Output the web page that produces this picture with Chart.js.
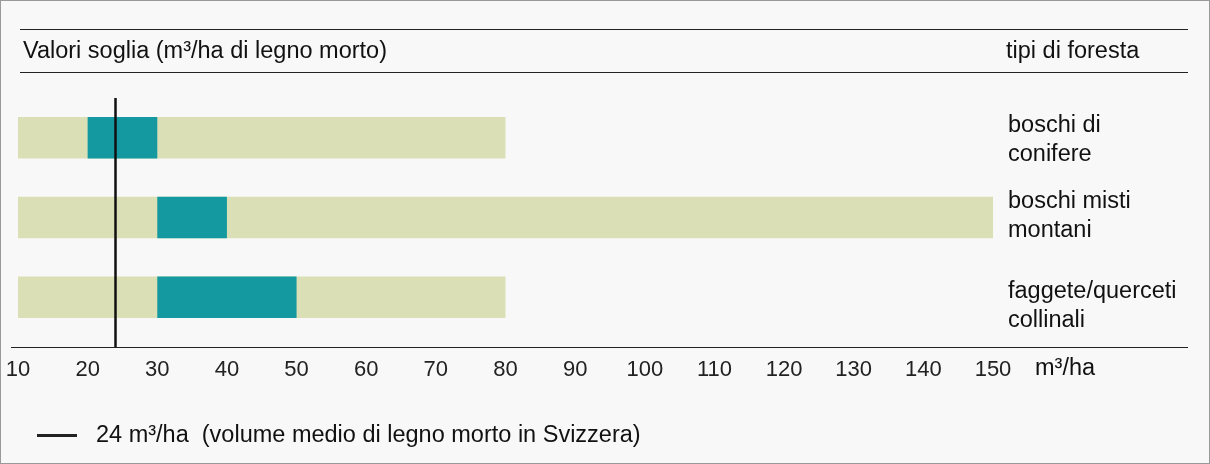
<!DOCTYPE html>
<html><head><meta charset="utf-8">
<script src="https://cdn.jsdelivr.net/npm/chart.js@4"></script>
<style>
body{margin:0;background:#fff;font-family:Arial,"Liberation Sans",sans-serif;color:#111}
#wrap{position:relative;width:1208px;height:462px;border:1px solid #9a9a9a;background:#f8f8f8}
canvas{position:absolute;left:0;top:0}
.t{position:absolute;font-size:23.5px;line-height:29px;white-space:nowrap}
.hl{position:absolute;height:1px;background:#222}
</style></head><body>
<div id="wrap">
  <canvas id="c" width="1208" height="462"></canvas>
  <div class="hl" style="left:19px;top:28px;width:1168px"></div>
  <div class="hl" style="left:19px;top:71px;width:1168px"></div>
  <div class="hl" style="left:10px;top:346px;width:1177px"></div>
  <div class="t" style="left:22px;top:35px">Valori soglia (m³/ha di legno morto)</div>
  <div class="t" style="left:1005px;top:35px">tipi di foresta</div>
  <div class="t" style="left:1007px;top:109px">boschi di<br>conifere</div>
  <div class="t" style="left:1007px;top:185px">boschi misti<br>montani</div>
  <div class="t" style="left:1007px;top:275px">faggete/querceti<br>collinali</div>
  <div class="t" style="left:1034px;top:352px">m³/ha</div>
  <div class="hl" style="left:36px;top:433px;width:40px;height:3px"></div>
  <div class="t" style="left:95px;top:419px">24 m³/ha&nbsp; (volume medio di legno morto in Svizzera)</div>
</div>
<script>
const forestTypes = ["boschi di conifere", "boschi misti montani", "faggete/querceti collinali"];
const rangeLow = [10, 10, 10];
const rangeHigh = [80, 150, 80];
const thresholdLow = [20, 30, 30];
const thresholdHigh = [30, 40, 50];
const swissAverage = 24;

// vertical line for the Swiss average
const avgLine = {
  id: "avgLine",
  afterDatasetsDraw(chart) {
    const x = chart.scales.x.getPixelForValue(swissAverage);
    const ctx = chart.ctx;
    ctx.save();
    ctx.strokeStyle = "#111";
    ctx.lineWidth = 2.5;
    ctx.beginPath();
    ctx.moveTo(x, 97);
    ctx.lineTo(x, 347);
    ctx.stroke();
    ctx.restore();
  }
};

new Chart(document.getElementById("c"), {
  type: "bar",
  data: {
    labels: forestTypes,
    datasets: [
      {
        data: thresholdLow.map((v, i) => [v, thresholdHigh[i]]),
        backgroundColor: "#13999f",
        order: 0
      },
      {
        data: rangeLow.map((v, i) => [v, rangeHigh[i]]),
        backgroundColor: "#dbdfb5",
        order: 1
      }
    ]
  },
  options: {
    indexAxis: "y",
    responsive: false,
    animation: false,
    devicePixelRatio: 1,
    layout: { padding: { left: 17, right: 216, top: 97, bottom: 84 } },
    datasets: { bar: { grouped: false, barPercentage: 0.52, categoryPercentage: 1 } },
    plugins: { legend: { display: false }, tooltip: { enabled: false } },
    scales: {
      x: {
        min: 10, max: 150,
        grid: { display: false },
        border: { display: false },
        ticks: { stepSize: 10, color: "#222", font: { size: 22, family: "Arial" }, padding: 12, maxRotation: 0 },
        afterFit(scale) {
          scale.height = 42;
          scale.paddingLeft = 0;
          scale.paddingRight = 0;
        }
      },
      y: { display: false }
    }
  },
  plugins: [avgLine]
});
</script>
</body></html>
